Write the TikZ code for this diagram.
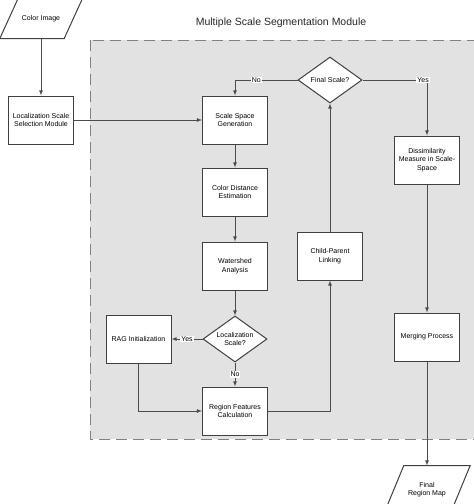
\documentclass[tikz,border=0pt]{standalone}
\usepackage{fontspec}
\setmainfont{Liberation Sans}
\usetikzlibrary{backgrounds,fit,positioning,shapes}
\definecolor{borde}{gray}{0.25}
\definecolor{linea}{gray}{0.3}
\definecolor{fondo}{gray}{0.885}
\definecolor{marco}{gray}{0.5}
\tikzstyle{exterior}=[
	rectangle,
	draw=borde,
	fill=white,
	line width=1,
	font=\fontsize{7}{8.5}\selectfont]
\tikzstyle{bloque}=[
	exterior,
	align=center,
	inner sep=1,
	minimum width=65,
	minimum height=48]
\tikzstyle{decision}=[
	exterior,
	diamond,
	align=center,
	inner sep=0,
	aspect=1.4,
	minimum width=64,
	minimum height=46]
\tikzstyle{datos}=[
	rectangle,
	align=center,
	inner sep=0,
	font=\fontsize{7}{8.5}\selectfont]
\tikzstyle{paralelo}=[
	draw=borde,
	fill=white,
	line width=1]
\tikzstyle{flecha}=[
	->,
	draw=linea,
	line width=0.8]
\tikzstyle{etiqueta}=[
	fill=white,
	inner sep=1,
	font=\fontsize{7}{8.5}\selectfont]
\tikzstyle{modulo}=[
	draw=marco,
	fill=fondo,
	line width=1,
	dash pattern=on 11pt off 6pt]

\begin{document}
\begin{tikzpicture}[x=1pt,y=-1pt,>=latex]
	\useasboundingbox (0,0) rectangle (474,504);
	\begin{scope}
		\begin{scope}
			\node[bloque]	(escala)	at (235,120)	{Scale Space\\Generation};
			\node[bloque]	(distancia)	[below=23pt of escala]	{Color Distance\\Estimation};
			\node[bloque]	(watershed)	[below=25pt of distancia]	{Watershed\\Analysis};
			\node[decision]	(local)	[below=25pt of watershed]	{Localization\\Scale?};
			\node[bloque]	(region)	[below=24pt of local]	{Region Features\\Calculation};
			\node[bloque]	(rag)	[left=31pt of local]	{RAG Initialization};
			\node[bloque]	(seleccion)	[left=128pt of escala]	{Localization Scale\\Selection Module};
			\node[datos,minimum width=64,minimum height=39]	(imagen)	[above=57pt of seleccion]	{Color Image};
			\node[decision]	(final)	at (330,80)	{Final Scale?};
			\node[bloque]	(enlace)	[below=128pt of final]	{Child-Parent\\Linking};
			\node[bloque]	(disim)	at (427,160)	{Dissimilarity\\Measure in Scale-\\Space};
			\node[bloque]	(fusion)	[below=128pt of disim]	{Merging Process};
			\node[datos,minimum width=66,minimum height=48]	(mapa)	[below=104pt of fusion]	{Final\\Region Map};
			\node[font=\fontsize{10.5}{12}\selectfont,text=black!85] (titulo) at (281,23) {Multiple Scale Segmentation Module};
		\end{scope}
		\begin{scope}[on background layer]
			\draw[modulo] (90,40) rectangle (480,439);
			\draw[paralelo] ([xshift=-9pt]imagen.south west) -- ([xshift=9pt]imagen.north west) -- ([xshift=9pt]imagen.north east) -- ([xshift=-9pt]imagen.south east) -- cycle;
			\draw[paralelo] ([xshift=-10pt]mapa.south west) -- ([xshift=10pt]mapa.north west) -- ([xshift=10pt]mapa.north east) -- ([xshift=-10pt]mapa.south east) -- cycle;
		\end{scope}
		\draw[flecha] (imagen) -- (seleccion);
		\draw[flecha] (seleccion) -- (escala);
		\draw[flecha] (escala) -- (distancia);
		\draw[flecha] (distancia) -- (watershed);
		\draw[flecha] (watershed) -- (local);
		\draw[flecha] (local) -- node[etiqueta] {Yes} (rag);
		\draw[flecha] (local) -- node[etiqueta] {No} (region);
		\draw[flecha] (rag) |- (region);
		\draw[flecha] (region) -| (enlace);
		\draw[flecha] (enlace) -- (final);
		\draw[flecha] (final) -| node[etiqueta,pos=0.33] {No} (escala);
		\draw[flecha] (final) -| node[etiqueta,pos=0.47] {Yes} (disim);
		\draw[flecha] (disim) -- (fusion);
		\draw[flecha] (fusion) -- (mapa);
	\end{scope}
\end{tikzpicture}
\end{document}
